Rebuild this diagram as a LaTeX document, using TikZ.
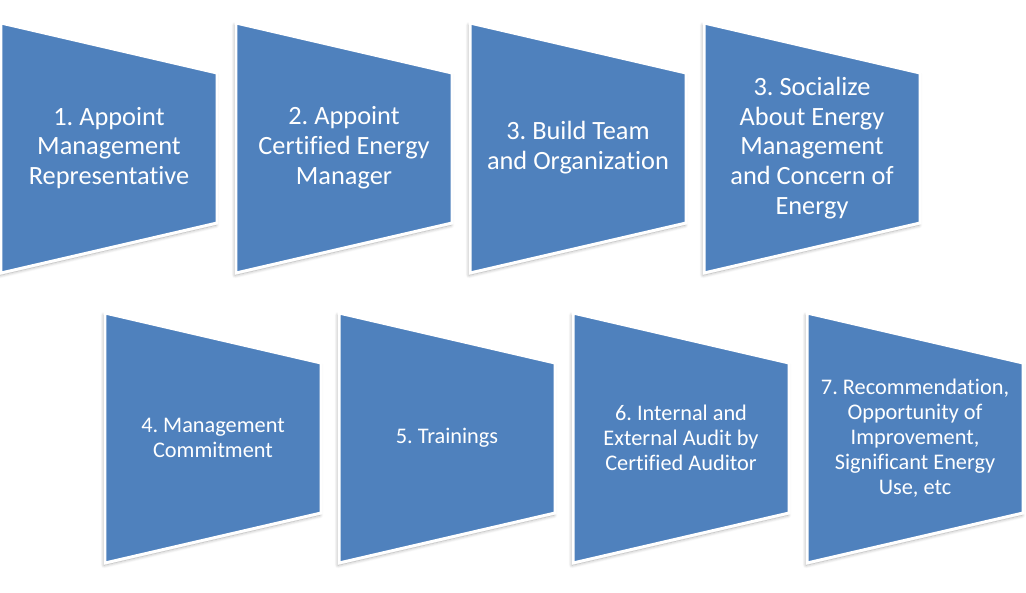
\documentclass[tikz,border=0pt]{standalone}
\usepackage{fontspec}
\setmainfont{Carlito}[Ligatures={NoCommon}]
\usepackage{tikz}
\usetikzlibrary{calc,shadows.blur}
\definecolor{tileblue}{HTML}{4F81BD}
\frenchspacing
\tikzset{
	tile/.style={fill=tileblue, draw=white, line width=1.7pt, line join=miter,
		blur shadow={shadow xshift=-0.6pt, shadow yshift=-1.2pt, shadow blur steps=6, shadow opacity=35}},
	bigtext/.style={text=white, align=center, font=\fontsize{15}{17}\selectfont},
	smalltext/.style={text=white, align=center, font=\fontsize{12.7}{14.2}\selectfont}
}
\def\steptile(#1,#2)[#3]#4#5{%
	\draw[tile] (#1,#2) -- ++(216,50) -- ++(0,150) -- ++(-216,50) -- cycle;
	\node[#3] (#4) at ($(#1,#2)+(108,125)$) {#5};}

\begin{document}
\begin{tikzpicture}[x=0.02cm, y=-0.02cm]
		%%%%% START %%%%%
		
		\useasboundingbox (0,0) rectangle (1026,592);
		
		% upper row
		\steptile(1,23)[bigtext]{appoint}{1. Appoint\\Management\\Representative}
		\steptile(236,23)[bigtext]{manager}{2. Appoint\\Certified Energy\\Manager}
		\steptile(470,23)[bigtext]{team}{3. Build Team\\and Organization}
		\steptile(704,23)[bigtext]{socialize}{3. Socialize\\About Energy\\Management\\and Concern of\\Energy}
		
		% lower row
		\steptile(105,313)[smalltext]{commit}{4. Management\\Commitment}
		\steptile(339,313)[smalltext]{train}{5. Trainings}
		\steptile(573,313)[smalltext]{audit}{6. Internal and\\External Audit by\\Certified Auditor}
		\steptile(807,313)[smalltext]{recommend}{7. Recommendation,\\Opportunity of\\Improvement,\\Significant Energy\\Use, etc}
		
		%%%%% END %%%%%
	\end{tikzpicture}
\end{document}
